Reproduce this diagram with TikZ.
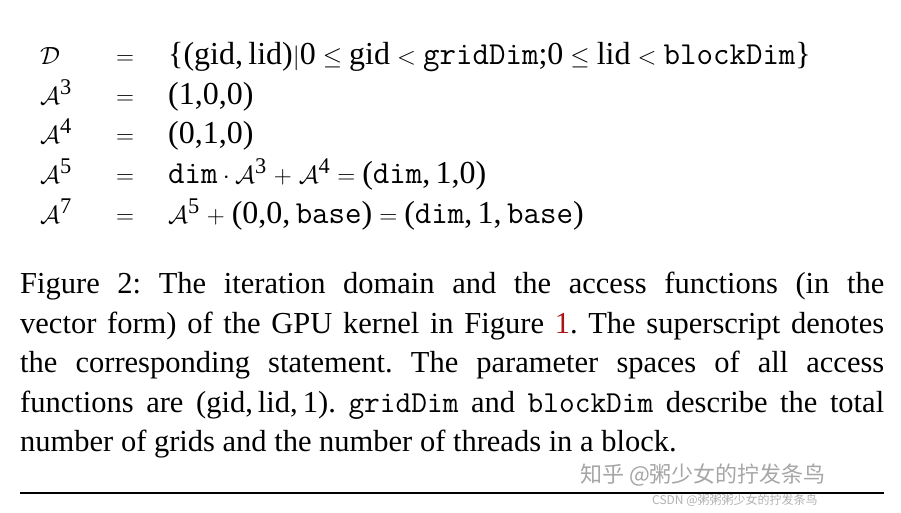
\documentclass[tikz,border=0pt]{standalone}
\usepackage{amsmath}
\usepackage{fontspec}
\setmainfont{Liberation Serif}
\newfontfamily\cjk{Noto Sans CJK SC}
\definecolor{refred}{RGB}{170,20,20}
\newcommand{\tA}[1]{$\mathcal{A}^{\text{#1}}$}
\newcommand{\rl}[1]{\hspace{0.22em}$#1$\hspace{0.22em}}
\begin{document}
\begin{tikzpicture}[x=1pt,y=-1pt,
  txt/.style={anchor=base west,inner sep=0pt,font=\fontsize{32}{39.5}\selectfont},
  captext/.style={anchor=north west,inner sep=0pt,text width=864pt,align=justify,font=\fontsize{30.5}{39.5}\selectfont\frenchspacing}]
\useasboundingbox (0,0) rectangle (901,512);
\fill[white] (0,0) rectangle (901,512);
\node[txt] (l1) at (40,64) {$\mathcal{D}$};
\node[txt] (l2) at (40,104) {\tA{3}};
\node[txt] (l3) at (40,143) {\tA{4}};
\node[txt] (l4) at (40,183) {\tA{5}};
\node[txt] (l5) at (40,223) {\tA{7}};
\foreach \y/\n in {64/1,104/2,143/3,183/4,223/5} \node[txt] (e\n) at (116,\y) {$=$};
\node[txt] (r1) at (168,64) {\{(gid,\,lid)$|$0\rl{\le}gid\rl{<}\texttt{gridDim};0\rl{\le}lid\rl{<}\texttt{blockDim}\}};
\node[txt] (r2) at (168,104) {(1,0,0)};
\node[txt] (r3) at (168,143) {(0,1,0)};
\node[txt] (r4) at (168,183) {\texttt{dim}\,$\cdot$\,\tA{3}\rl{+}\tA{4}\rl{=}(\texttt{dim},\,1,0)};
\node[txt] (r5) at (168,223) {\tA{5}\rl{+}(0,0,\,\texttt{base})\rl{=}(\texttt{dim},\,1,\,\texttt{base})};
\node[captext] (c) at (20,272) {Figure 2: The iteration domain and the access functions (in the\linebreak vector form) of the GPU kernel in Figure \textcolor{refred}{1}. The superscript denotes\linebreak the corresponding statement. The parameter spaces of all access\linebreak functions are (gid,\,lid,\,1). \texttt{gridDim} and \texttt{blockDim} describe the total\linebreak number of grids and the number of threads in a block.};
\draw[line width=1.2pt] (20,493) coordinate (a) -- (884,493) coordinate (b);
\node[anchor=base west,inner sep=0pt,text=gray!70,font=\cjk\fontsize{22}{24}\selectfont] (w1) at (580,482) {知乎 @粥少女的拧发条鸟};
\node[anchor=base west,inner sep=0pt,text=gray!60,font=\cjk\fontsize{12}{14}\selectfont] (w2) at (652,504) {CSDN @粥粥粥少女的拧发条鸟};
\end{tikzpicture}
\end{document}
